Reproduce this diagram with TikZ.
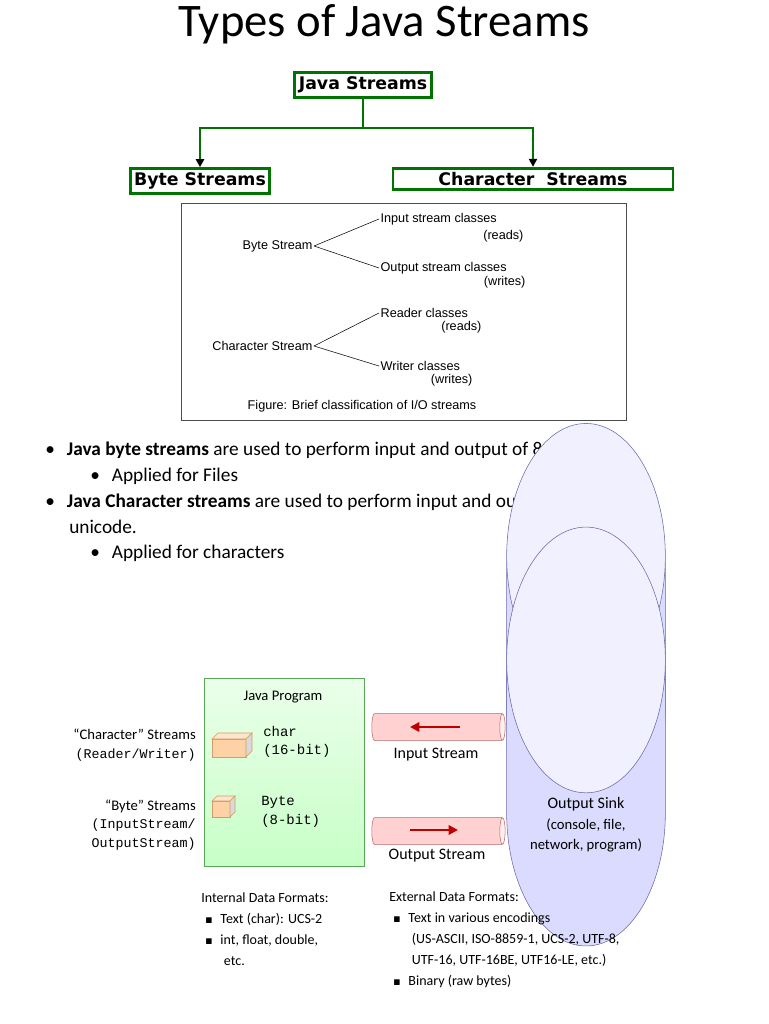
\documentclass[tikz,border=0pt]{standalone}
\usepackage{amssymb}
\usepackage{fontspec}
\setmainfont{Carlito}
\newfontfamily\arialf{Liberation Sans}
\newfontfamily\boxf{DejaVu Sans}
\newfontfamily\monof{Liberation Mono}
\usetikzlibrary{shapes.geometric,arrows.meta}

\tikzset{
  greenbox/.style={draw=green!45!black,line width=2.2pt,inner sep=3pt,font=\boxf\bfseries\fontsize{13}{15}\selectfont,fill=white},
  greenline/.style={green!45!black,line width=1.6pt},
  figtext/.style={font=\arialf\fontsize{9.5}{11}\selectfont,inner sep=1pt},
  bullettext/.style={anchor=west,font=\fontsize{14.5}{17}\selectfont,inner sep=0pt},
  dtext/.style={font=\fontsize{11}{13}\selectfont,inner sep=0pt},
  pipe/.style={cylinder,draw=red!55!black!60,minimum width=20pt,minimum height=100pt,aspect=0.6,
    cylinder uses custom fill,cylinder body fill=red!18,cylinder end fill=red!6},
  store/.style={cylinder,shape border rotate=90,draw=blue!45!black!60,minimum width=119pt,aspect=2.2,
    cylinder uses custom fill,cylinder body fill=blue!14,cylinder end fill=blue!6,align=center,
    font=\fontsize{11}{15.5}\selectfont},
  cube/.style={fill=orange!35,draw=orange!70!black!60}
}

\begin{document}
\begin{tikzpicture}[x=0.75pt,y=-0.75pt]
\useasboundingbox (0,0) rectangle (768,1024);

% title
\node[font=\fontsize{35}{40}\selectfont] (title) at (384,24) {Types of Java Streams};

% tree
\node[greenbox] (js) at (363,85) {Java Streams};
\node[greenbox] (bs) at (200,181) {Byte Streams};
\node[greenbox,minimum width=210pt] (cs) at (533,179) {Character\ \ Streams};
\coordinate (fork) at (363,128);
\draw[greenline] (js.south) -- (fork);
\draw[greenline,-{Triangle[length=6pt,width=6pt,black]}] (fork) -| (bs.north);
\draw[greenline,-{Triangle[length=6pt,width=6pt,black]}] (fork) -| (cs.north);

% figure
\node[draw=gray!60!black,minimum width=334pt,minimum height=163pt] (fig) at (404,312) {};
\node[figtext,anchor=east] (bstream) at (314,246) {Byte Stream};
\node[figtext,anchor=west] (inp) at (379,219) {Input stream classes};
\node[figtext,anchor=east] (inr) at (525,236) {(reads)};
\node[figtext,anchor=west] (outp) at (379,268) {Output stream classes};
\node[figtext,anchor=east] (outw) at (527,282) {(writes)};
\node[figtext,anchor=east] (cstream) at (314,346) {Character Stream};
\node[figtext,anchor=west] (rdr) at (379,313) {Reader classes};
\node[figtext,anchor=east] (rdrr) at (483,327) {(reads)};
\node[figtext,anchor=west] (wtr) at (379,366) {Writer classes};
\node[figtext,anchor=east] (wtrw) at (474,380) {(writes)};
\node[figtext] (cap) at (362,406) {Figure: Brief classification of I/O streams};
\draw (bstream.east) -- (inp.west);
\draw (bstream.east) -- (outp.west);
\draw (cstream.east) -- (rdr.west);
\draw (cstream.east) -- (wtr.west);

% bullets
\node[bullettext] (b1) at (45,450) {\textbullet\hspace{9pt}\textbf{Java byte streams} are used to perform input and output of 8-bit bytes.};
\node[bullettext] (b2) at (90,476) {\textbullet\hspace{9pt}Applied for Files};
\node[bullettext] (b3) at (45,502) {\textbullet\hspace{9pt}\textbf{Java Character streams} are used to perform input and output for 16-bit};
\node[bullettext] (b4) at (69,527) {unicode.};
\node[bullettext] (b5) at (90,553) {\textbullet\hspace{9pt}Applied for characters};

% lower diagram
\node[draw=green!30!gray,top color=green!8,bottom color=green!22,minimum width=120pt,minimum height=141pt] (prog) at (284,772) {};
\node[dtext] (progt) at (283,697) {Java Program};
\fill[cube] (212,739) rectangle (246,757);
\fill[orange!20,draw=orange!70!black!60] (212,739) -- (218,733) -- (252,733) -- (246,739) -- cycle;
\fill[gray!30,draw=orange!70!black!60] (246,739) -- (252,733) -- (252,751) -- (246,757) -- cycle;
\fill[cube] (212,801) rectangle (230,817);
\fill[orange!20,draw=orange!70!black!60] (212,801) -- (217,796) -- (235,796) -- (230,801) -- cycle;
\fill[gray!30,draw=orange!70!black!60] (230,801) -- (235,796) -- (235,812) -- (230,817) -- cycle;
\node[dtext,anchor=west,align=left,font=\monof\fontsize{10.5}{14}\selectfont] (charl) at (263,742) {char\\(16-bit)};
\node[dtext,anchor=west,align=left,font=\monof\fontsize{10.5}{14}\selectfont] (bytel) at (261,812) {Byte\\(8-bit)};

\node[dtext,anchor=east,align=right,font=\fontsize{11}{14}\selectfont] (cl) at (196,745) {“Character” Streams\\{\monof\fontsize{10}{14}\selectfont(Reader/Writer)}};
\node[dtext,anchor=east,align=right,font=\fontsize{11}{14}\selectfont] (bl) at (196,825) {“Byte” Streams\\{\monof\fontsize{10}{14}\selectfont(InputStream/}\\{\monof\fontsize{10}{14}\selectfont OutputStream)}};

\node[pipe] (ipipe) at (436,727) {};
\node[pipe] (opipe) at (436,831) {};
\coordinate (ia) at (460,727);
\coordinate (ib) at (410,727);
\coordinate (oa) at (410,830);
\coordinate (ob) at (458,830);
\draw[red!75!black,line width=1.8pt,-{Triangle[length=7pt,width=7pt]}] (ia) -- (ib);
\draw[red!75!black,line width=1.8pt,-{Triangle[length=7pt,width=7pt]}] (oa) -- (ob);
\node[dtext,font=\fontsize{12}{14}\selectfont] (ist) at (436,755) {Input Stream};
\node[dtext,font=\fontsize{12}{14}\selectfont] (ost) at (437,856) {Output Stream};

\node[store,minimum height=72pt] (src) at (586,721) {\fontsize{12}{15}\selectfont Input Source\\(keyboard, file,\\network, program)};
\node[store,minimum height=66pt] (sink) at (586,825) {\fontsize{12}{15}\selectfont Output Sink\\(console, file,\\network, program)};

\node[dtext,anchor=west,align=left,font=\fontsize{10.5}{15.8}\selectfont] (intf) at (201,929) {Internal Data Formats:\\
\hspace{3pt}{\tiny$\blacksquare$}\hspace{6pt}Text (char): UCS-2\\
\hspace{3pt}{\tiny$\blacksquare$}\hspace{6pt}int, float, double,\\
\hspace{17pt}etc.};
\node[dtext,anchor=west,align=left,font=\fontsize{10.5}{15.8}\selectfont] (extf) at (389,940) {External Data Formats:\\
\hspace{3pt}{\tiny$\blacksquare$}\hspace{6pt}Text in various encodings\\
\hspace{17pt}(US-ASCII, ISO-8859-1, UCS-2, UTF-8,\\
\hspace{17pt}UTF-16, UTF-16BE, UTF16-LE, etc.)\\
\hspace{3pt}{\tiny$\blacksquare$}\hspace{6pt}Binary (raw bytes)};
\end{tikzpicture}
\end{document}
